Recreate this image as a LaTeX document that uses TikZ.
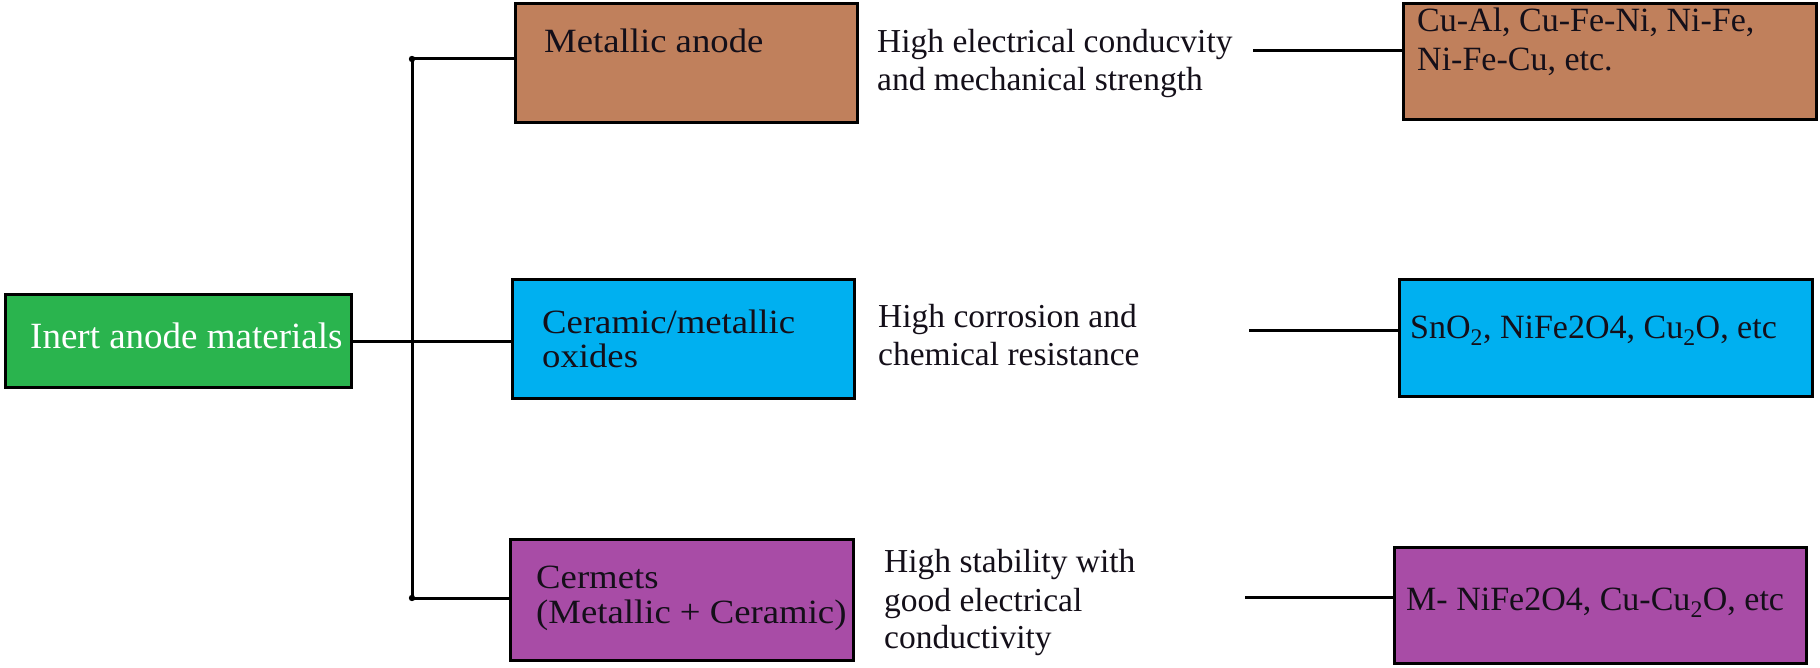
\documentclass[tikz,border=0pt]{standalone}
\usepackage{fontspec}
\setmainfont{Liberation Serif}
\newfontfamily\boxfont[FakeStretch=1.08]{Liberation Serif}
\definecolor{cbrown}{RGB}{192,128,92}
\definecolor{cblue}{RGB}{0,176,240}
\definecolor{cgreen}{RGB}{42,180,78}
\definecolor{cpurple}{RGB}{168,76,166}
\definecolor{ctext}{RGB}{20,15,25}
\begin{document}
\begin{tikzpicture}[x=1pt,y=-1pt,
  boxnode/.style={draw=black, line width=3pt, inner sep=0pt},
  txt/.style={anchor=base west, inner sep=0pt, text=ctext},
  midtxt/.style={txt, font=\fontsize{33.5}{38}\selectfont},
  lefttxt/.style={txt, font=\boxfont\fontsize{34}{38}\selectfont},
  righttxt/.style={txt, font=\fontsize{34}{38}\selectfont},
  link/.style={line width=3pt, black}]
\fill[white] (0,0) rectangle (1820,668);
\useasboundingbox (0,0) rectangle (1820,668);

% boxes
\node[boxnode, fill=cgreen, minimum width=346pt, minimum height=92pt] (green) at (178,341) {};
\node[boxnode, fill=cbrown, minimum width=342pt, minimum height=119pt] (metal) at (686,63.5) {};
\node[boxnode, fill=cblue, minimum width=342pt, minimum height=118pt] (ceramic) at (683,339) {};
\node[boxnode, fill=cpurple, minimum width=343pt, minimum height=121pt] (cermet) at (681.5,599.5) {};
\node[boxnode, fill=cbrown, minimum width=413pt, minimum height=116pt] (brownR) at (1609.5,62) {};
\node[boxnode, fill=cblue, minimum width=413pt, minimum height=116pt] (blueR) at (1605.5,338) {};
\node[boxnode, fill=cpurple, minimum width=412pt, minimum height=116pt] (purpleR) at (1600,605) {};

% texts in boxes
\node[txt, text=white, font=\fontsize{37}{40}\selectfont] (greenT) at (30,348) {Inert anode materials};
\node[lefttxt] (metalT) at (544,53) {Metallic anode};
\node[lefttxt] (ceramicT1) at (542,333) {Ceramic/metallic};
\node[lefttxt] (ceramicT2) at (542,367) {oxides};
\node[lefttxt] (cermetT1) at (536,588) {Cermets};
\node[lefttxt] (cermetT2) at (536,623) {(Metallic + Ceramic)};
\node[righttxt] (brownT1) at (1417,32) {Cu-Al, Cu-Fe-Ni, Ni-Fe,};
\node[righttxt] (brownT2) at (1417,71) {Ni-Fe-Cu, etc.};
\node[righttxt] (blueT) at (1410,338) {SnO\textsubscript{2}, NiFe2O4, Cu\textsubscript{2}O, etc};
\node[righttxt] (purpleT) at (1406,610) {M- NiFe2O4, Cu-Cu\textsubscript{2}O, etc};

% middle descriptions
\node[midtxt] (d1a) at (877,53) {High electrical conducvity};
\node[midtxt] (d1b) at (877,91) {and mechanical strength};
\node[midtxt] (d2a) at (878,327) {High corrosion and};
\node[midtxt] (d2b) at (878,365) {chemical resistance};
\node[midtxt] (d3a) at (884,572) {High stability with};
\node[midtxt] (d3b) at (884,611) {good electrical};
\node[midtxt] (d3c) at (884,648) {conductivity};

% tree connectors
\coordinate (ttop) at (412,59);
\coordinate (tbot) at (412,598);
\draw[link] (ttop) -- (tbot);
\draw[link] (ttop) -- (ttop -| metal.west);
\draw[link] (tbot) -- (tbot -| cermet.west);
\draw[link] (green.east) -- (green.east -| ceramic.west);
\fill (ttop) circle (3.2pt);
\fill (tbot) circle (3.2pt);

% right connectors
\coordinate (r1) at (1253,51);
\coordinate (r2) at (1249,330);
\coordinate (r3) at (1245,597);
\draw[link] (r1) -- (r1 -| brownR.west);
\draw[link] (r2) -- (r2 -| blueR.west);
\draw[link] (r3) -- (r3 -| purpleR.west);
\end{tikzpicture}
\end{document}
